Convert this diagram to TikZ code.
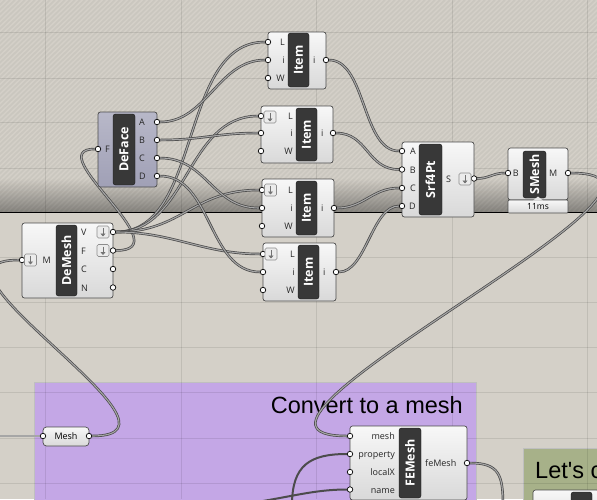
\documentclass[tikz,border=0pt]{standalone}
\usepackage{fontspec}
\setmainfont{Open Sans}
\newfontfamily\groupfont{Liberation Sans}
\usetikzlibrary{positioning, arrows.meta}
\definecolor{canvas}{RGB}{212,208,200}
\definecolor{grouppurple}{RGB}{196,167,230}
\definecolor{groupgreen}{RGB}{167,177,137}
\definecolor{deconstruct}{RGB}{160,160,182}
\pgfdeclarelayer{background}
\pgfdeclarelayer{wires}
\pgfsetlayers{background,wires,main}

\begin{document}
\begin{tikzpicture}[
        x=1pt, y=-1pt,
        comp/.style={draw=black!70, line width=0.7pt, rounded corners=2.5pt, top color=black!3, bottom color=black!15, inner sep=0pt},
        strip/.style={draw=black!90, fill=black!78, rounded corners=2.5pt, inner sep=0pt, rotate=90, text=white, font=\bfseries\fontsize{12.5}{12.5}\selectfont},
        plabel/.style={inner sep=0pt, text height=7pt, text depth=0pt, text=black!85, font=\fontsize{9}{9}\selectfont},
        nub/.style={circle, draw=black, fill=white, line width=0.7pt, minimum size=5.5pt, inner sep=0pt},
        flaticon/.style={draw=black!45, fill=black!8, rounded corners=1.5pt, line width=0.6pt},
        wire/.style={draw=black!72, line width=0.7pt, double=black!35, double distance=1.1pt},
        itemwire/.style={draw=black!70, line width=2pt},
        hatch/.style={draw=black, opacity=0.045, line width=1.8pt},
        gridline/.style={draw=black, opacity=0.09, line width=0.8pt},
        grouptitle/.style={inner sep=0pt, font=\groupfont\fontsize{23.5}{23.5}\selectfont}
    ]
    \useasboundingbox (0,0) rectangle (597,499);

    % canvas, groups and grid
    \begin{pgfonlayer}{background}
        \fill[canvas] (0,0) rectangle (597,499);
        \shade[top color=canvas, bottom color=canvas!64!black] (0,178) rectangle (597,212);
        \begin{scope}
            \clip (0,0) rectangle (597,212);
            \foreach \i in {0,5,...,820}
                \draw[hatch] (\i-220,212) -- (\i,0);
        \end{scope}
        \draw[black, line width=0.9pt] (0,212) -- (597,212);
        \fill[grouppurple] (34,382) rectangle (476,505);
        \draw[black!25, line width=0.5pt] (34,505) -- (34,382) -- (476,382) -- (476,505);
        \fill[groupgreen] (523,448) rectangle (605,505);
        \draw[black!25, line width=0.5pt] (523,505) -- (523,448) -- (605,448);
        \foreach \x in {45,181,316,452,587}
            \draw[gridline] (\x,0) -- (\x,499);
        \foreach \y in {32,78,122,168,257,302,347,392,438,483}
            \draw[gridline] (0,\y) -- (597,\y);
        \node[grouptitle, anchor=base east] (title1) at (463,413) {Convert to a mesh};
        \node[grouptitle, anchor=base west] (title2) at (535,478) {Let's c};
    \end{pgfonlayer}

    % Mesh parameter
    \node[comp, rounded corners=3.5pt, minimum width=46pt, minimum height=19pt, font=\fontsize{9}{9}\selectfont] (meshpar) at (66,436.5) {Mesh};
    \node[nub] (mp-in) at (43,436) {};
    \node[nub] (mp-out) at (89,436) {};
    \coordinate (mesh-src) at (-5,436);

    % DeMesh
    \node[comp, minimum width=91pt, minimum height=75pt] (demesh) at (67.5,260.5) {};
    \node[strip, minimum width=71pt, minimum height=21pt] (demesh-s) at (66.5,260.5) {DeMesh};
    \node[nub] (dm-M) at (22,260) {};
    \node[plabel, anchor=east] at (51,260) {M};
    \foreach \p/\y in {V/232,F/250.5,C/269,N/287.5} {
        \node[nub] (dm-\p) at (113,\y) {};
        \node[plabel, anchor=west] at (81,\y) {\p};
    }

    % DeFace
    \node[comp, top color=deconstruct!75!white, bottom color=deconstruct, minimum width=59pt, minimum height=75pt] (deface) at (127.5,149.5) {};
    \node[strip, minimum width=71pt, minimum height=22pt] (deface-s) at (124,149.5) {DeFace};
    \node[nub] (df-F) at (98,149) {};
    \node[plabel, anchor=east] at (110,149) {F};
    \foreach \p/\y in {A/122,B/140,C/158,D/176} {
        \node[nub] (df-\p) at (157,\y) {};
        \node[plabel, anchor=west] at (139,\y) {\p};
    }

    % List Item components
    \node[comp, minimum width=58pt, minimum height=57pt] (item1) at (297,60.5) {};
    \node[strip, minimum width=54pt, minimum height=21pt] (item1-s) at (298.5,60) {Item};
    \foreach \p/\y in {L/42,i/60,W/78} {
        \node[nub] (it1-\p) at (268,\y) {};
        \node[plabel, anchor=east] at (285,\y) {\p};
    }
    \node[nub] (it1-o) at (326,60) {};
    \node[plabel, anchor=west] at (313,60) {i};

    \node[comp, minimum width=72pt, minimum height=57pt] (item2) at (297,134.5) {};
    \node[strip, minimum width=53pt, minimum height=21pt] (item2-s) at (306.5,134.5) {Item};
    \foreach \p/\y in {L/116,i/133,W/151} {
        \node[nub] (it2-\p) at (261,\y) {};
        \node[plabel, anchor=east] at (293,\y) {\p};
    }
    \node[nub] (it2-o) at (333,133) {};
    \node[plabel, anchor=west] at (321,133) {i};

    \node[comp, minimum width=72pt, minimum height=58pt] (item3) at (298,208) {};
    \node[strip, minimum width=54pt, minimum height=21pt] (item3-s) at (306.5,208) {Item};
    \foreach \p/\y in {L/190,i/208,W/226} {
        \node[nub] (it3-\p) at (262,\y) {};
        \node[plabel, anchor=east] at (293,\y) {\p};
    }
    \node[nub] (it3-o) at (334,208) {};
    \node[plabel, anchor=west] at (321,208) {i};

    \node[comp, minimum width=73pt, minimum height=58pt] (item4) at (299.5,272) {};
    \node[strip, minimum width=54pt, minimum height=21pt] (item4-s) at (308.5,272) {Item};
    \foreach \p/\y in {L/254,i/272,W/290} {
        \node[nub] (it4-\p) at (263,\y) {};
        \node[plabel, anchor=east] at (295,\y) {\p};
    }
    \node[nub] (it4-o) at (336,272) {};
    \node[plabel, anchor=west] at (323,272) {i};

    % Srf4Pt
    \node[comp, minimum width=72pt, minimum height=75pt] (srf) at (438,179.5) {};
    \node[strip, minimum width=71pt, minimum height=23pt] (srf-s) at (430.5,179.5) {Srf4Pt};
    \foreach \p/\y in {A/151,B/169.5,C/188,D/206} {
        \node[nub] (srf-\p) at (402,\y) {};
        \node[plabel, anchor=east] at (416,\y) {\p};
    }
    \node[nub] (srf-S) at (474,178.5) {};
    \node[plabel, anchor=west] at (446,178.5) {S};

    % SMesh
    \node[comp, minimum width=60pt, minimum height=52pt] (smesh) at (538,174) {};
    \node[strip, minimum width=47pt, minimum height=23pt] (smesh-s) at (534.5,174.5) {SMesh};
    \node[nub] (sm-B) at (508,173) {};
    \node[plabel, anchor=east] at (519,173) {B};
    \node[nub] (sm-M) at (568,173) {};
    \node[plabel, anchor=west] at (549,173) {M};
    \node[comp, rounded corners=1pt, minimum width=60pt, minimum height=13pt, font=\fontsize{8.5}{8.5}\selectfont] (timer) at (538,206.5) {11ms};
    \fill[black!10] (533,200.5) -- (538,196.5) -- (543,200.5) -- cycle;

    % FEMesh
    \node[comp, minimum width=117pt, minimum height=74pt] (femesh) at (408.5,463) {};
    \node[strip, minimum width=70pt, minimum height=22pt] (femesh-s) at (410,463) {FEMesh};
    \foreach \p/\y in {mesh/436,property/454,localX/472,name/489.5} {
        \node[nub] (fe-\p) at (350,\y) {};
        \node[plabel, anchor=east] at (395,\y) {\p};
    }
    \node[nub] (fe-out) at (467,463) {};
    \node[plabel, anchor=west] at (425,463) {feMesh};
    \coordinate (prop-src) at (292,505);
    \coordinate (name-src) at (235,505);
    \coordinate (out-dst) at (503,505);

    % component in the green group
    \node[comp, minimum width=66pt, minimum height=40pt] (nextcomp) at (566,510) {};
    \node[strip, minimum width=36pt, minimum height=21pt] (nextcomp-s) at (581.5,510) {};

    % flatten icons
    \foreach \x/\y in {270/117,270.5/190,271/254,30.5/260,103/232,103/250.5,465/179} {
        \draw[flaticon] (\x-6,\y-6) rectangle (\x+6,\y+6);
        \draw[black!55, line width=1pt, -{Triangle[length=3pt,width=5pt]}] (\x,\y-4) -- (\x,\y+4.5);
    }

    % wires
    \begin{pgfonlayer}{wires}
        \draw[wire] (mesh-src) -- (mp-in);
        \draw[wire] (mp-out) .. controls +(120,0) and +(-120,0) .. (dm-M);
        \draw[wire] (dm-F) .. controls +(70,0) and +(-60,0) .. (df-F);
        \draw[wire] (dm-V) .. controls +(90,0) and +(-90,0) .. (it1-L);
        \draw[wire] (dm-V) .. controls +(75,0) and +(-75,0) .. (it2-L);
        \draw[wire] (dm-V) .. controls +(70,0) and +(-70,0) .. (it3-L);
        \draw[wire] (dm-V) .. controls +(60,0) and +(-60,0) .. (it4-L);
        \draw[wire] (df-A) .. controls +(50,0) and +(-50,0) .. (it1-i);
        \draw[wire] (df-B) .. controls +(45,0) and +(-45,0) .. (it2-i);
        \draw[wire] (df-C) .. controls +(50,0) and +(-50,0) .. (it3-i);
        \draw[wire] (df-D) .. controls +(55,0) and +(-55,0) .. (it4-i);
        \draw[wire] (it1-o) .. controls +(40,0) and +(-40,0) .. (srf-A);
        \draw[wire] (it2-o) .. controls +(35,0) and +(-35,0) .. (srf-B);
        \draw[wire] (it3-o) .. controls +(30,0) and +(-30,0) .. (srf-C);
        \draw[wire] (it4-o) .. controls +(30,0) and +(-30,0) .. (srf-D);
        \draw[wire] (srf-S) .. controls +(15,0) and +(-15,0) .. (sm-B);
        \draw[wire] (sm-M) .. controls +(170,0) and +(-170,0) .. (fe-mesh);
        \draw[itemwire] (prop-src) .. controls +(0,-40) and +(-40,0) .. (fe-property);
        \draw[itemwire] (name-src) .. controls +(50,-6) and +(-40,0) .. (fe-name);
        \draw[wire] (fe-out) .. controls +(32,0) and +(0,-30) .. (out-dst);
    \end{pgfonlayer}
\end{tikzpicture}
\end{document}
